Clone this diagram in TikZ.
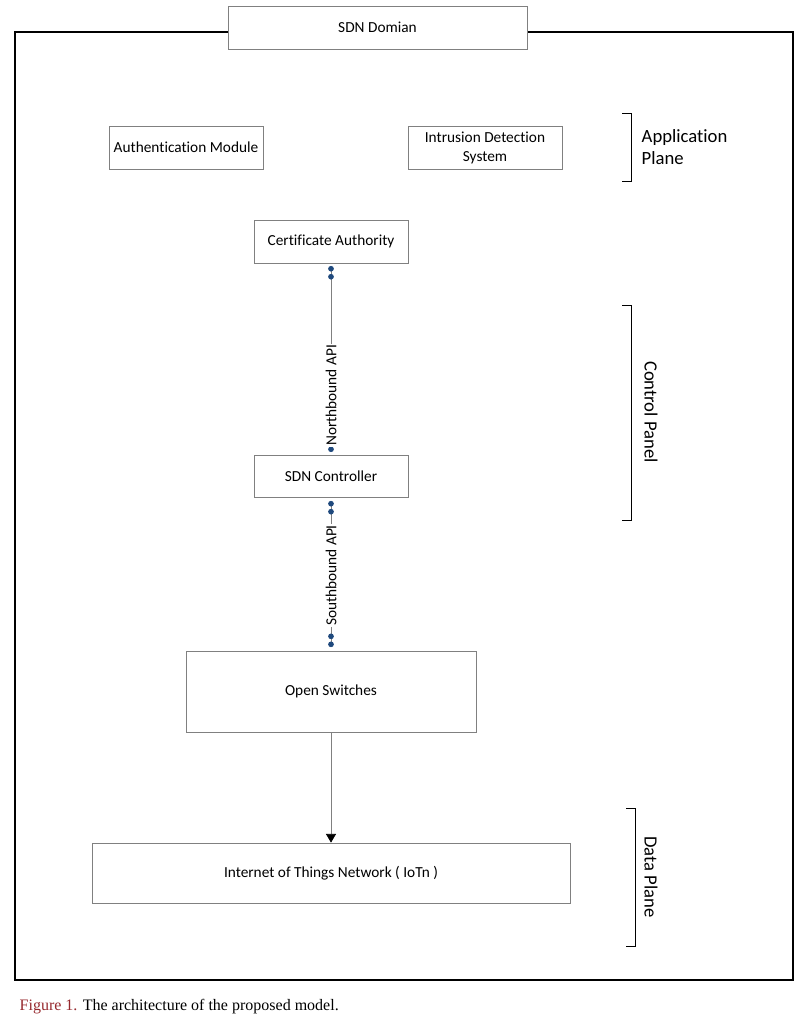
\documentclass[tikz,border=0pt]{standalone}
\usepackage{fontspec}
\setmainfont{Carlito}[Ligatures=NoCommon]
\newfontfamily\capfont{Liberation Serif}
\usetikzlibrary{arrows.meta}
\definecolor{dotblue}{RGB}{31,73,125}
\definecolor{boxgray}{RGB}{128,128,128}
\definecolor{figred}{RGB}{150,40,45}

\begin{document}
\begin{tikzpicture}[x=0.75pt, y=-0.75pt,
    box/.style={rectangle, draw=boxgray, line width=0.6pt, fill=white,
      inner sep=2pt, align=center, font=\fontsize{11.5}{14.5}\selectfont},
    planelabel/.style={font=\fontsize{14}{17}\selectfont},
    apilabel/.style={rotate=90, fill=white, inner sep=1pt,
      font=\fontsize{11.5}{14}\selectfont},
    api/.style={draw=boxgray, line width=0.5pt},
    dot/.tip={Circle[length=4.2pt, color=dotblue]},
    dots/.tip={Circle[length=4.2pt, color=dotblue, sep=1.8pt]
      Circle[length=4.2pt, color=dotblue]},
  ]
    \useasboundingbox (0,0) rectangle (800,1018);
    % Frame
    \draw [line width=1.1pt] (15,32) rectangle (793,980);

    % Nodes
    \node (domain) [box, minimum width=224.25pt, minimum height=32.25pt]
      at (377.5,27.5) {SDN Domian};
    \node (auth) [box, minimum width=115.5pt, minimum height=32.25pt]
      at (186,147.5) {Authentication Module};
    \node (ids) [box, minimum width=115.5pt, minimum height=32.25pt]
      at (485,148) {Intrusion Detection\\System};
    \node (ca) [box, minimum width=115.5pt, minimum height=32.25pt]
      at (331,241.5) {Certificate Authority};
    \node (ctrl) [box, minimum width=115.5pt, minimum height=31.5pt]
      at (331,476) {SDN Controller};
    \node (switches) [box, minimum width=217.5pt, minimum height=60.75pt]
      at (331,691.5) {Open Switches};
    \node (iot) [box, minimum width=358.5pt, minimum height=45pt]
      at (331,873) {Internet of Things Network ( IoTn )};

    % Planes
    \draw [line width=0.6pt] (622,113) -- (631,113) -- (631,181) -- (622,181);
    \node (appplane) [planelabel, anchor=west, align=left] at (637,147)
      {Application\\Plane};
    \draw [line width=0.6pt] (622,305) -- (631,305) -- (631,520) -- (622,520);
    \node (ctrlplane) [planelabel, rotate=-90] at (651,412) {Control Panel};
    \draw [line width=0.6pt] (626,808) -- (635,808) -- (635,946) -- (626,946);
    \node (dataplane) [planelabel, rotate=-90] at (651,877) {Data Plane};

    % Links
    \draw [api, dots-dot, shorten <=1.9pt, shorten >=1.9pt] (ca) -- (ctrl)
      node[apilabel, pos=0.69]{Northbound API};
    \draw [api, dots-dots, shorten <=2.6pt, shorten >=2.6pt] (ctrl) -- (switches)
      node[apilabel, pos=0.51]{Southbound API};
    \draw [api, -{Triangle[width=7.5pt, length=6.5pt, color=black]}]
      (switches) -- (iot);

    % Caption
    \node (caption) [anchor=base west, font=\capfont\fontsize{12}{14}\selectfont]
      at (15,1010) {\textcolor{figred}{Figure 1.} The architecture of the proposed model.};
\end{tikzpicture}
\end{document}
